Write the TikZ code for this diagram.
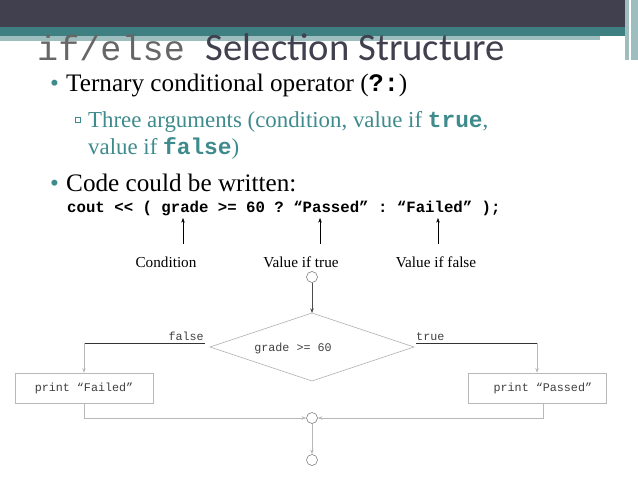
\documentclass[tikz,border=0pt]{standalone}
\usepackage{fontspec}
\setmainfont{Liberation Serif}
\setmonofont{Liberation Mono}
\newfontfamily\titlesans{Carlito}
\usetikzlibrary{positioning, arrows.meta, shapes.geometric}
\definecolor{barDark}{HTML}{41404F}
\definecolor{barTeal}{HTML}{3E7F82}
\definecolor{barLight}{HTML}{9DBDBE}
\definecolor{subTeal}{HTML}{3E8A8C}
\definecolor{flowGray}{HTML}{B8B8B8}
\begin{document}
\begin{tikzpicture}[x=0.03cm, y=-0.03cm, >={Stealth[length=4pt,width=3pt]},
  every node/.style={inner sep=0pt}]
  \tikzset{
    bodytext/.style={anchor=base west, font=\fontsize{21.5}{24}\selectfont},
    subtext/.style={anchor=base west, font=\fontsize{19.5}{22}\selectfont, text=subTeal},
    flowtext/.style={font=\ttfamily\fontsize{10}{12}\selectfont, text=black!75},
    flowbox/.style={draw=flowGray, minimum width=138*0.03cm, minimum height=30*0.03cm, flowtext},
    flowline/.style={draw=flowGray, line width=0.6pt},
    joint/.style={circle, draw=black!60, minimum size=11*0.03cm},
    label/.style={font=\fontsize{13}{15}\selectfont}
  }
  \useasboundingbox (0,0) rectangle (638,478);
  % header bars
  \fill[barDark] (0,0) rectangle (638,27);
  \fill[barTeal] (0,27) rectangle (638,36);
  \fill[barLight] (0,36) rectangle (380,41);
  \fill[barLight] (380,36) rectangle (600,40);
  \fill[barLight] (625,0) rectangle (638,60);
  \fill[white] (629,0) rectangle (631,60);
  % title and bullets
  \node[anchor=base west] (title) at (37,61)
    {\fontsize{30}{34}\selectfont\ttfamily\color{black!60}if/else \titlesans\color{barDark}\fontsize{33}{36}\selectfont Selection Structure};
  \node[bodytext, text=subTeal] (b1) at (50,92) {\textbullet};
  \node[bodytext] (ternary) at (66,92) {Ternary conditional operator (\textbf{\ttfamily ?:})};
  \node[draw=subTeal, minimum size=5*0.03cm] (b2) at (78,120) {};
  \node[subtext] (args) at (88,127) {Three arguments (condition, value if \textbf{\ttfamily true},};
  \node[subtext] (args2) at (88,154) {value if \textbf{\ttfamily false})};
  \node[bodytext, text=subTeal] (b3) at (50,191) {\textbullet};
  \node[bodytext] (written) at (66,191) {Code could be written:};
  \node[anchor=base west, font=\ttfamily\bfseries\fontsize{13.4}{15}\selectfont] (code) at (67,212)
    {cout << ( grade >= 60 ? “Passed” : “Failed” );};
  % argument labels
  \node[label] (cond) at (166,262) {Condition};
  \node[label] (vtrue) at (301,262) {Value if true};
  \node[label] (vfalse) at (436,262) {Value if false};
  \coordinate (c1) at (183,218);
  \coordinate (c2) at (320,218);
  \coordinate (c3) at (438,218);
  \draw[->] (183,244) -- (c1);
  \draw[->] (320,244) -- (c2);
  \draw[->] (438,244) -- (c3);
  % flowchart
  \node[joint] (start) at (312,277) {};
  \draw[flowline] (312,313) -- (414,347) -- (312,381) -- (210,347) -- cycle;
  \coordinate (dtop) at (312,313);
  \node[flowtext] (test) at (293,348) {grade >= 60};
  \node[flowbox] (failed) at (84,388) {print “Failed”\hspace{5.5em}};
  \node[flowbox] (passed) at (537,388) {\hspace{1em}print “Passed”\hspace{1.5em}};
  \node[joint] (merge) at (312,418) {};
  \node[joint] (stop) at (312,460) {};
  \draw[flowline, ->, draw=black!70] (start) -- (dtop);
  \draw[black!80] (205,343) -- (84,343);
  \draw[black!80] (416,343) -- (537,343);
  \node[flowtext, anchor=base east] (lfalse) at (204,340) {false};
  \node[flowtext, anchor=base west] (ltrue) at (416,340) {true};
  \draw[flowline, ->] (84,343) -- (failed.north);
  \draw[flowline, ->] (537,343) -- (passed.north);
  \draw[flowline, ->] (failed.south) |- (merge.west);
  \draw[flowline, ->] (543,403) |- (merge.east);
  \draw[flowline, ->] (merge) -- (stop);
\end{tikzpicture}
\end{document}
